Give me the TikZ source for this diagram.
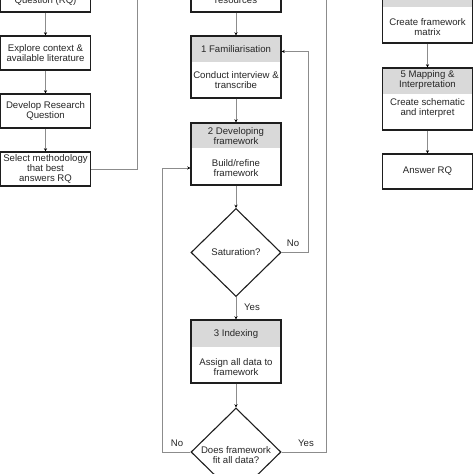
\documentclass[tikz,border=0pt]{standalone}
\usepackage{fontspec}
\setmainfont{Liberation Sans}
\usetikzlibrary{arrows.meta,shapes.geometric,calc}
\definecolor{hdr}{HTML}{D9D9D9}
\definecolor{bord}{HTML}{1E1E1E}
\definecolor{conn}{HTML}{8C8C8C}
\definecolor{ink}{HTML}{262626}
\tikzset{
  box/.style={draw=bord,line width=1.1pt,fill=white,minimum width=90pt,minimum height=#1,inner sep=0pt},
  box/.default=34pt,
  phase/.style 2 args={draw=bord,line width=1.1pt,fill=white,minimum width=90pt,minimum height=#1,inner sep=0pt,
    path picture={\fill[hdr] (path picture bounding box.north west) rectangle ([yshift=-#2]path picture bounding box.north east);}},
  dec/.style={draw=bord,line width=1.1pt,fill=white,diamond,minimum width=90pt,minimum height=88pt,inner sep=0pt},
  txt/.style={font=\fontsize{9.6}{10}\selectfont,text=ink,align=center,inner sep=0pt},
  lbl/.style={font=\fontsize{9.6}{10}\selectfont,text=ink,inner sep=0pt},
  conn/.style={draw=conn,line width=0.7pt,-{Stealth[length=3.2pt,width=3pt,color=black]}},
  line/.style={draw=conn,line width=0.7pt}
}
\begin{document}
\begin{tikzpicture}[x=1pt,y=-1pt]
\useasboundingbox (0,0) rectangle (474,474);
\clip (0,0) rectangle (474,474);
% left column
\node[box] (q) at (45.5,-5) {};
\node[txt,anchor=base] (qt) at (45.5,3) {Question (RQ)};
\node[box] (exp) at (45.5,53) {};
\node[txt] (expt) at (45.5,53) {Explore context \&\\available literature};
\node[box] (dev) at (45.5,111) {};
\node[txt] (devt) at (45.5,111) {Develop Research\\Question};
\node[box] (sel) at (45.5,169) {};
\node[txt] (selt) at (45.5,169) {Select methodology\\that best\\answers RQ};
\coordinate (topL) at (137,-30);
\draw[conn] (q) -- (exp);
\draw[conn] (exp) -- (dev);
\draw[conn] (dev) -- (sel);
\draw[line] (sel.east) -| (topL);
% middle column
\node[box] (res) at (236,-5) {};
\node[txt,anchor=base] (rest) at (236,3.5) {resources};
\node[phase={62pt}{26pt}] (fam) at (236,67) {};
\node[txt] (famh) at (236,49) {1 Familiarisation};
\node[txt] (famb) at (236,80) {Conduct interview \&\\transcribe};
\node[phase={62pt}{25pt}] (frm) at (236,154) {};
\node[txt] (frmh) at (236,136) {2 Developing\\framework};
\node[txt] (frmb) at (236,168) {Build/refine\\framework};
\node[dec] (sat) at (236,252.5) {};
\node[txt] (satt) at (236,252.5) {Saturation?};
\node[phase={63pt}{27pt}] (idx) at (236,351.5) {};
\node[txt] (idxh) at (236,334) {3 Indexing};
\node[txt] (idxb) at (236,367.5) {Assign all data to\\framework};
\node[dec] (fit) at (236,452) {};
\node[txt] (fitt) at (236,455) {Does framework\\fit all data?};
\draw[conn] (res) -- (fam);
\draw[conn] (fam) -- (frm);
\draw[conn] (frm) -- (sat);
\draw[conn] (sat) -- (idx);
\draw[conn] (idx) -- (fit);
\draw[conn] (sat.east) -- ++(27,0) |- ([yshift=-16pt]fam.north east);
\draw[conn] (fit.west) -- ++(-28,0) |- (frm.west |- frmb);
\coordinate (topR) at (326,-30);
\draw[line] (fit.east) -| (topR);
\node[lbl] (no1) at (293,243) {No};
\node[lbl] (yes1) at (252,307) {Yes};
\node[lbl] (no2) at (177,443) {No};
\node[lbl] (yes2) at (306,443) {Yes};
% right column
\node[phase={62pt}{26pt}] (mat) at (427.5,12) {};
\node[txt] (matb) at (427.5,27.5) {Create framework\\matrix};
\node[phase={62pt}{26pt}] (map) at (427.5,99) {};
\node[txt] (maph) at (427.5,80.5) {5 Mapping \&\\Interpretation};
\node[txt] (mapb) at (427.5,108) {Create schematic\\and interpret};
\node[box,minimum height=35pt] (ans) at (427.5,171.5) {};
\node[txt] (anst) at (427.5,171.5) {Answer RQ};
\draw[conn] (mat) -- (map);
\draw[conn] (map) -- (ans);
\end{tikzpicture}
\end{document}
